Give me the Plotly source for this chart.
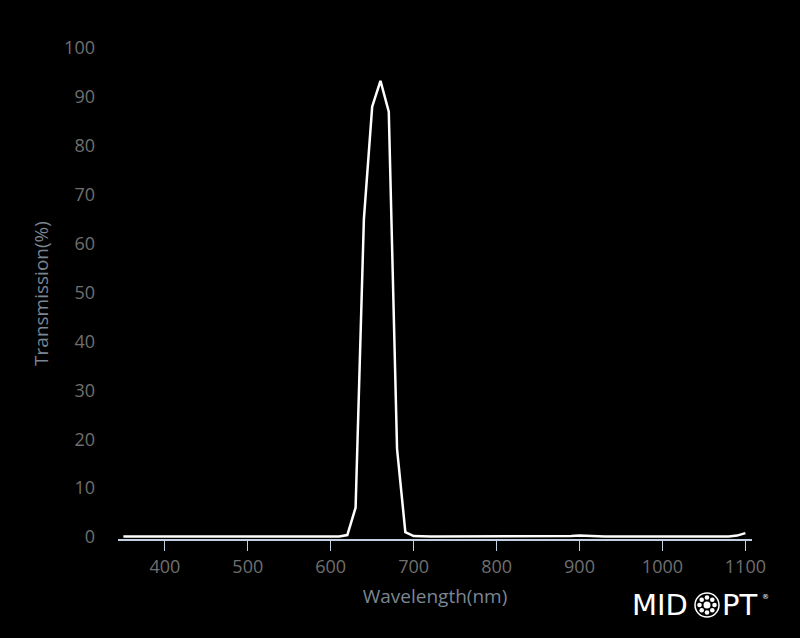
import math
import plotly.graph_objects as go

wavelength_nm = list(range(350, 1101, 10))
# transmission values (%), 10 nm steps
transmission_pct = (
    [0.1] * 27            # 350 .. 610
    + [0.4, 6.0, 65.0, 88.0, 93.3, 87.0, 18.0, 1.0, 0.2]  # 620 .. 700
    + [0.1] * 18          # 710 .. 880
    + [0.2, 0.3, 0.2]     # 890 .. 910
    + [0.1] * 17          # 920 .. 1080
    + [0.3, 0.8]          # 1090, 1100
)

x_ticks = [400, 500, 600, 700, 800, 900, 1000, 1100]
y_ticks = [0, 10, 20, 30, 40, 50, 60, 70, 80, 90, 100]

fig = go.Figure()
fig.add_trace(go.Scatter(
    x=wavelength_nm, y=transmission_pct, mode="lines",
    line=dict(color="#ffffff", width=2.5), hoverinfo="x+y", showlegend=False,
))

font_family = "Open Sans, sans-serif"
tick_color = "#6f6f6f"
title_color = "#7c8692"
fig.update_layout(
    width=800, height=638,
    paper_bgcolor="#000000", plot_bgcolor="#000000",
    margin=dict(l=118, r=48, t=48, b=99),
    font=dict(family=font_family, color=tick_color, size=18),
    xaxis=dict(
        range=[343.5, 1108], tickvals=x_ticks, showgrid=False, zeroline=False,
        showline=True, linecolor="#c0d0e0", linewidth=2,
        ticks="outside", ticklen=10, tickcolor="#c0d0e0", tickwidth=1,
        tickfont=dict(size=18, color=tick_color),
        title=dict(text="Wavelength(nm)", font=dict(size=19, color=title_color), standoff=13),
    ),
    yaxis=dict(
        range=[-0.4, 100], tickvals=y_ticks, showgrid=False, zeroline=False,
        showline=False, ticks="", ticklabelstandoff=22,
        tickfont=dict(size=18, color=tick_color),
        title=dict(text="Transmission(%)", font=dict(size=19, color=title_color), standoff=10),
    ),
)

# MIDOPT logo (decorative)
def px(xp, yp):
    return (xp - 118) / 634, (539 - yp) / 491

logo_font = dict(family="DejaVu Sans, sans-serif", size=29, color="#ffffff")
lx, ly = px(630, 605)
fig.add_annotation(xref="paper", yref="paper", x=lx, y=ly, xanchor="left", yanchor="middle",
                   text="MID", showarrow=False, font=logo_font)
lx2, _ = px(720, 605)
fig.add_annotation(xref="paper", yref="paper", x=lx2, y=ly, xanchor="left", yanchor="middle",
                   text="PT", showarrow=False, font=logo_font)
rx, ry = px(760, 597)
fig.add_annotation(xref="paper", yref="paper", x=rx, y=ry, xanchor="left", yanchor="middle",
                   text="®", showarrow=False,
                   font=dict(family="DejaVu Sans, sans-serif", size=7, color="#ffffff"))

cx, cy = 707, 605
def circ(xc, yc, r, **kw):
    x0, y0 = px(xc - r, yc + r)
    x1, y1 = px(xc + r, yc - r)
    fig.add_shape(type="circle", xref="paper", yref="paper", x0=x0, y0=y0, x1=x1, y1=y1, **kw)

circ(cx, cy, 12, line=dict(color="#ffffff", width=1.5))
circ(cx, cy, 3.5, fillcolor="#ffffff", line=dict(width=0))
for k in range(8):
    a = k * math.pi / 4
    circ(cx + 7.5 * math.cos(a), cy + 7.5 * math.sin(a), 2.3, fillcolor="#ffffff", line=dict(width=0))

fig.write_html(
    "out.html",
    config={"displayModeBar": False},
    post_script="document.body.style.margin='0';document.body.style.background='#000';"
                "document.body.style.overflow='hidden';",
)
